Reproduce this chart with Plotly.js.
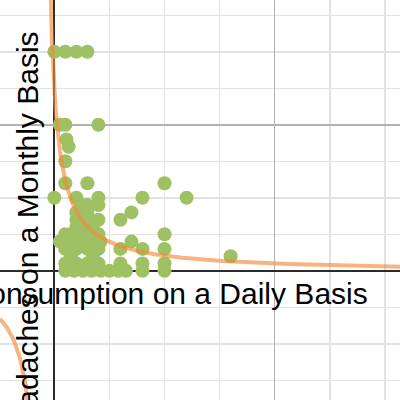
<!DOCTYPE html>
<html>
<head>
<meta charset="utf-8">
<script src="https://cdn.plot.ly/plotly-3.0.1.min.js"></script>
<style>html,body{margin:0;padding:0;background:#fff}#chart{width:400px;height:400px}</style>
</head>
<body>
<div id="chart"></div>
<script>
// Caffeine consumption (mg per day) for each respondent
const caffeine = [0,10,20,30, 5,10,40, 11,13, 10, 10,30,100, 0,20,40,80,120,
  25,30,40, 20,30,70, 20,30,40,60, 20,25,35, 10,15,20,30,40,100,
  5,15,20,25,35,42,70,
  10,20,30,40,60,80,100, 15,35,160, 10,20,30,40,60,80,100,
  10,18,26,34,42,50,58,65,80,100];
// Headaches per month for each respondent
const headaches = [30,30,30,30, 20,20,20, 18,17, 15, 12,12,12, 10,10,10,10,10,
  9,9,9, 8,8,8, 7,7,7,7, 6,6,6, 5,5,5,5,5,5,
  4,4,4,4,4,4,4,
  3,3,3,3,3,3,3, 2,2,2, 1,1,1,1,1,1,1,
  0,0,0,0,0,0,0,0,0,0];
// Fitted curve parameters: y = fitA / (x + fitB) + fitC
const fitA = 250, fitB = 10, fitC = -0.2;
const xLabel = "Caffeine Consumption on a Daily Basis";
const yLabel = "Headaches on a Monthly Basis";
const xRange = [-49.3, 313.7];
const yRange = [-17.7, 37.1];

function fitY(x) { return fitA / (x + fitB) + fitC; }
const lowerX = [], upperX = [];
const n = 600;
for (let i = 0; i <= n; i++) {
  const x = xRange[0] + (xRange[1] - xRange[0]) * i / n;
  if (x < -fitB - 0.01) lowerX.push(x);
  else if (x > -fitB + 0.01) upperX.push(x);
}
for (let k = 1; k <= 200; k++) {
  const d = 0.02 * k;
  lowerX.push(-fitB - d); upperX.push(-fitB + d);
}
lowerX.sort((a,b)=>a-b); upperX.sort((a,b)=>a-b);
const curveX = lowerX.concat([null], upperX);
const curveY = lowerX.map(fitY).concat([null], upperX.map(fitY));

const traces = [
  {x: caffeine, y: headaches, type: 'scatter', mode: 'markers',
   marker: {size: 14, color: '#9fc063', line: {width: 0}}, hoverinfo: 'skip'},
  {x: curveX, y: curveY, type: 'scatter', mode: 'lines', connectgaps: false,
   line: {color: 'rgba(240,140,60,0.65)', width: 4}, hoverinfo: 'skip'}
];

const axisCommon = {
  showticklabels: false, ticks: '', showline: false,
  showgrid: true, gridcolor: '#b2b2b2', gridwidth: 1.5,
  zeroline: true, zerolinecolor: '#2b2b2b', zerolinewidth: 2,
  fixedrange: true
};

const layout = {
  width: 400, height: 400,
  margin: {l: 0, r: 0, t: 0, b: 0, pad: 0},
  paper_bgcolor: '#ffffff', plot_bgcolor: '#ffffff',
  showlegend: false,
  xaxis: Object.assign({}, axisCommon, {range: xRange, tick0: 0, dtick: 200,
    minor: {tick0: 0, dtick: 50, showgrid: true, gridcolor: '#e2e2e2', gridwidth: 1.5, ticks: ''}}),
  yaxis: Object.assign({}, axisCommon, {range: yRange, tick0: 0, dtick: 20,
    minor: {tick0: 0, dtick: 5, showgrid: true, gridcolor: '#e2e2e2', gridwidth: 1.5, ticks: ''}}),
  annotations: [
    {text: xLabel, xref: 'paper', yref: 'paper', x: 0.925, y: 0.312,
     xanchor: 'right', yanchor: 'top', showarrow: false,
     font: {family: 'Liberation Sans, Arial, sans-serif', size: 30, color: '#000'}},
    {text: yLabel, xref: 'paper', yref: 'paper', x: 0.0675, y: 0.9275,
     xanchor: 'center', yanchor: 'top', showarrow: false, textangle: -90,
     font: {family: 'Liberation Sans, Arial, sans-serif', size: 30, color: '#000'}}
  ]
};

Plotly.newPlot('chart', traces, layout, {staticPlot: true, displayModeBar: false});
</script>
</body>
</html>
